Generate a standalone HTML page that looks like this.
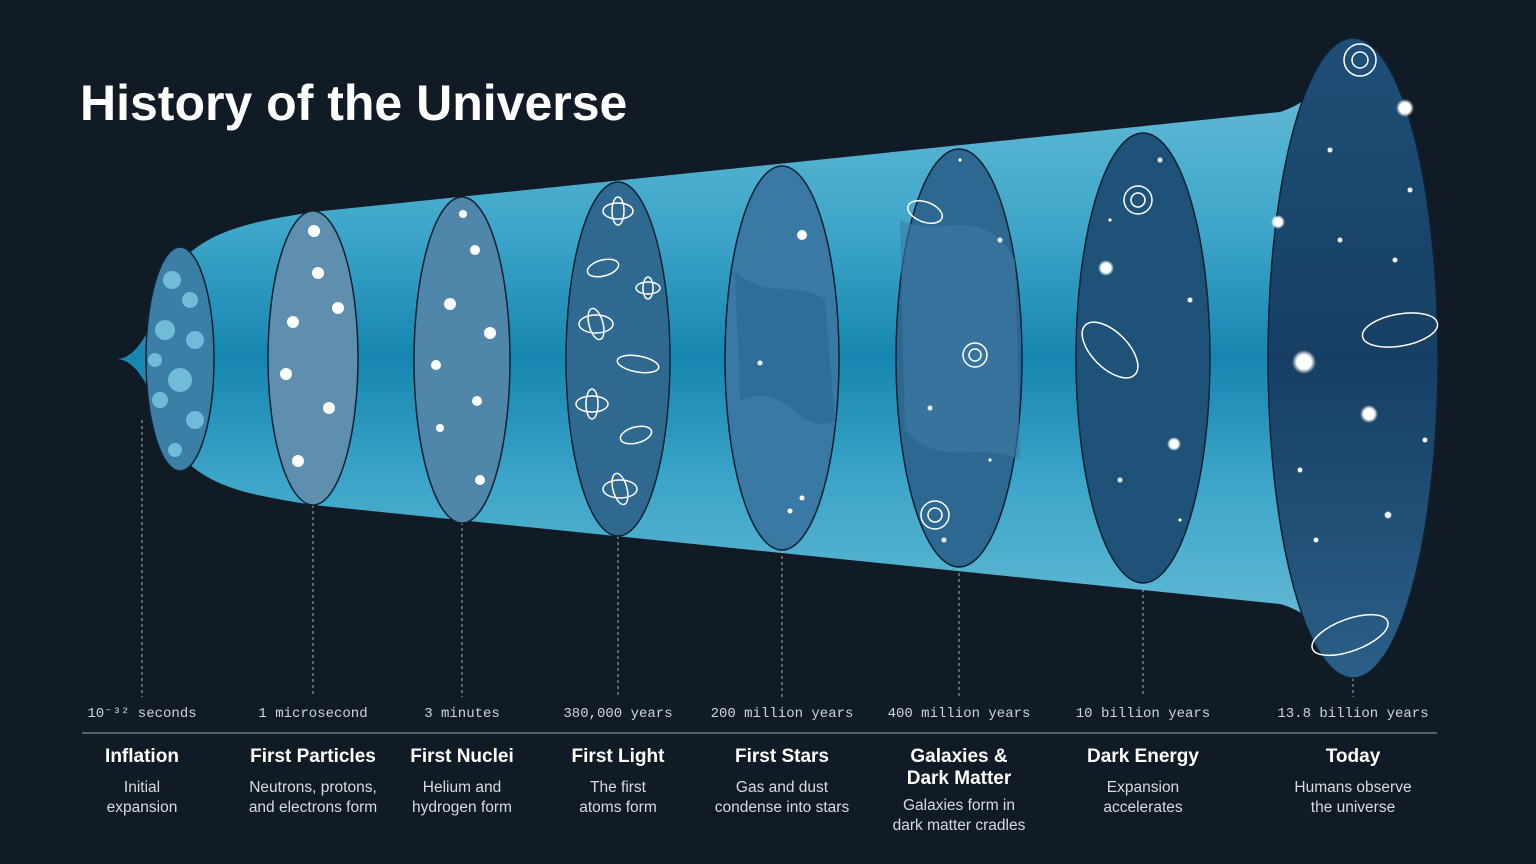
<!DOCTYPE html>
<html><head><meta charset="utf-8"><style>
html,body{margin:0;padding:0;background:#111b26;width:1536px;height:864px;overflow:hidden}
svg{display:block}
.t{font-family:"Liberation Sans",sans-serif;fill:#fff}
.m{font-family:"Liberation Mono",monospace;fill:#d0d4d8;font-size:14px}
.h{font-family:"Liberation Sans",sans-serif;font-weight:bold;fill:#fff;font-size:19px}
.d{font-family:"Liberation Sans",sans-serif;fill:#d8dce0;font-size:15.5px}
</style></head><body>
<svg width="1536" height="864" viewBox="0 0 1536 864">
<defs>
<linearGradient id="fun" x1="0" y1="0" x2="0" y2="1">
<stop offset="0" stop-color="#6ec0da"/><stop offset="0.3" stop-color="#3ea6c9"/><stop offset="0.5" stop-color="#1686b0"/><stop offset="0.7" stop-color="#3ea6c9"/><stop offset="1" stop-color="#6ec0da"/>
</linearGradient>
<linearGradient id="tod" x1="0" y1="0" x2="0" y2="1">
<stop offset="0" stop-color="#1e4f77"/><stop offset="0.5" stop-color="#173f63"/><stop offset="1" stop-color="#2a5f88"/>
</linearGradient>
<radialGradient id="st"><stop offset="0" stop-color="#fff"/><stop offset="0.6" stop-color="#fff"/><stop offset="1" stop-color="#fff" stop-opacity="0"/></radialGradient>
</defs>
<rect width="1536" height="864" fill="#111b26"/>
<text class="t" x="80" y="120" font-size="50" font-weight="bold">History of the Universe</text>
<path d="M118,359 C140,356 150,330 180,262 C210,230 250,222 313,212 L1280,112 C1320,100 1340,60 1355,38 L1355,678 C1340,650 1320,615 1280,604 L313,505 C250,495 210,488 180,455 C150,390 140,362 118,359 Z" fill="url(#fun)"/>
<g stroke="#aab" stroke-width="1" stroke-dasharray="3,3">
<line x1="142" y1="420" x2="142" y2="697"/>
<line x1="313" y1="505" x2="313" y2="697"/>
<line x1="462" y1="522" x2="462" y2="697"/>
<line x1="618" y1="536" x2="618" y2="697"/>
<line x1="782" y1="550" x2="782" y2="697"/>
<line x1="959" y1="567" x2="959" y2="697"/>
<line x1="1143" y1="583" x2="1143" y2="697"/>
<line x1="1353" y1="678" x2="1353" y2="697"/>
</g>
<g stroke="#0e2233" stroke-width="1.5">
<ellipse cx="180" cy="359" rx="34" ry="112" fill="#3b7fa6"/>
<ellipse cx="313" cy="358" rx="45" ry="147" fill="#5e8fae"/>
<ellipse cx="462" cy="360" rx="48" ry="163" fill="#4f86aa"/>
<ellipse cx="618" cy="359" rx="52" ry="177" fill="#2f6990"/>
<ellipse cx="782" cy="358" rx="57" ry="192" fill="#3a79a3"/>
<ellipse cx="959" cy="358" rx="63" ry="209" fill="#2d6890"/>
<ellipse cx="1143" cy="358" rx="67" ry="225" fill="#1f5278"/>
<ellipse cx="1353" cy="358" rx="85" ry="320" fill="url(#tod)"/>
</g>
<g fill="#7ecbe4" opacity="0.8">
<circle cx="172" cy="280" r="9"/><circle cx="190" cy="300" r="8"/><circle cx="165" cy="330" r="10"/><circle cx="195" cy="340" r="9"/><circle cx="180" cy="380" r="12"/><circle cx="160" cy="400" r="8"/><circle cx="195" cy="420" r="9"/><circle cx="175" cy="450" r="7"/><circle cx="155" cy="360" r="7"/>
</g>
<path d="M735,270 C760,300 800,280 825,300 L835,420 C800,440 790,380 740,400 Z" fill="#2a6a99" opacity="0.7"/>
<path d="M900,220 C940,240 980,200 1015,260 L1020,460 C980,440 940,470 905,430 Z" fill="#3d7ba5" opacity="0.6"/>
<g fill="#fff">
<circle cx="314" cy="231" r="6"/><circle cx="318" cy="273" r="6"/><circle cx="338" cy="308" r="6"/><circle cx="293" cy="322" r="6"/><circle cx="286" cy="374" r="6"/><circle cx="329" cy="408" r="6"/><circle cx="298" cy="461" r="6"/>
<circle cx="450" cy="304" r="6"/><circle cx="490" cy="333" r="6"/><circle cx="436" cy="365" r="5"/><circle cx="477" cy="401" r="5"/><circle cx="440" cy="428" r="4"/><circle cx="480" cy="480" r="5"/><circle cx="475" cy="250" r="5"/><circle cx="463" cy="214" r="4"/>
<circle cx="802" cy="235" r="5"/><circle cx="760" cy="363" r="2.5"/><circle cx="802" cy="498" r="2.5"/><circle cx="790" cy="511" r="2.5"/>
</g>
<g fill="none" stroke="#fff" stroke-width="1.5">
<ellipse cx="618" cy="211" rx="15" ry="8"/><ellipse cx="618" cy="211" rx="6" ry="14"/>
<ellipse cx="603" cy="268" rx="16" ry="8" transform="rotate(-15 603 268)"/>
<ellipse cx="648" cy="288" rx="12" ry="6"/><ellipse cx="648" cy="288" rx="5" ry="11"/>
<ellipse cx="596" cy="324" rx="17" ry="9"/><ellipse cx="596" cy="324" rx="7" ry="16" transform="rotate(-15 596 324)"/>
<ellipse cx="638" cy="364" rx="21" ry="8" transform="rotate(10 638 364)"/>
<ellipse cx="592" cy="404" rx="16" ry="8"/><ellipse cx="592" cy="404" rx="6" ry="15"/>
<ellipse cx="636" cy="435" rx="16" ry="8" transform="rotate(-15 636 435)"/>
<ellipse cx="620" cy="489" rx="17" ry="9"/><ellipse cx="620" cy="489" rx="7" ry="16" transform="rotate(-15 620 489)"/>
<circle cx="975" cy="355" r="12"/><circle cx="975" cy="355" r="6"/>
<circle cx="935" cy="515" r="14"/><circle cx="935" cy="515" r="7"/>
<ellipse cx="925" cy="212" rx="18" ry="10" transform="rotate(20 925 212)"/>
<circle cx="1138" cy="200" r="14"/><circle cx="1138" cy="200" r="7"/>
<ellipse cx="1110" cy="350" rx="35" ry="18" transform="rotate(45 1110 350)"/>
<ellipse cx="1400" cy="330" rx="38" ry="16" transform="rotate(-10 1400 330)"/>
<circle cx="1360" cy="60" r="16"/><circle cx="1360" cy="60" r="8"/>
<ellipse cx="1350" cy="635" rx="40" ry="16" transform="rotate(-20 1350 635)"/>
</g>
<g fill="url(#st)">
<circle cx="1106" cy="268" r="8"/><circle cx="1174" cy="444" r="7"/><circle cx="1304" cy="362" r="12"/><circle cx="1369" cy="414" r="9"/><circle cx="1405" cy="108" r="9"/><circle cx="1278" cy="222" r="7"/>
<circle cx="1330" cy="150" r="3"/><circle cx="1410" cy="190" r="3"/><circle cx="1388" cy="515" r="4"/><circle cx="1300" cy="470" r="3"/><circle cx="1425" cy="440" r="3"/><circle cx="1340" cy="240" r="3"/><circle cx="1316" cy="540" r="3"/><circle cx="1395" cy="260" r="3"/>
<circle cx="1160" cy="160" r="3"/><circle cx="1110" cy="220" r="2"/><circle cx="1190" cy="300" r="3"/><circle cx="1120" cy="480" r="3"/><circle cx="1180" cy="520" r="2"/>
<circle cx="930" cy="408" r="3"/><circle cx="1000" cy="240" r="3"/><circle cx="960" cy="160" r="2"/><circle cx="990" cy="460" r="2"/><circle cx="944" cy="540" r="3"/>
</g>
<g class="m" text-anchor="middle">
<text x="142" y="717">10⁻³² seconds</text>
<text x="313" y="717">1 microsecond</text>
<text x="462" y="717">3 minutes</text>
<text x="618" y="717">380,000 years</text>
<text x="782" y="717">200 million years</text>
<text x="959" y="717">400 million years</text>
<text x="1143" y="717">10 billion years</text>
<text x="1353" y="717">13.8 billion years</text>
</g>
<line x1="82" y1="733" x2="1437" y2="733" stroke="#9aa3ab" stroke-width="1"/>
<g class="h" text-anchor="middle">
<text x="142" y="762">Inflation</text>
<text x="313" y="762">First Particles</text>
<text x="462" y="762">First Nuclei</text>
<text x="618" y="762">First Light</text>
<text x="782" y="762">First Stars</text>
<text x="959" y="762">Galaxies &amp;</text><text x="959" y="784">Dark Matter</text>
<text x="1143" y="762">Dark Energy</text>
<text x="1353" y="762">Today</text>
</g>
<g class="d" text-anchor="middle">
<text x="142" y="792">Initial</text><text x="142" y="812">expansion</text>
<text x="313" y="792">Neutrons, protons,</text><text x="313" y="812">and electrons form</text>
<text x="462" y="792">Helium and</text><text x="462" y="812">hydrogen form</text>
<text x="618" y="792">The first</text><text x="618" y="812">atoms form</text>
<text x="782" y="792">Gas and dust</text><text x="782" y="812">condense into stars</text>
<text x="959" y="810">Galaxies form in</text><text x="959" y="830">dark matter cradles</text>
<text x="1143" y="792">Expansion</text><text x="1143" y="812">accelerates</text>
<text x="1353" y="792">Humans observe</text><text x="1353" y="812">the universe</text>
</g>
</svg>
</body></html>
